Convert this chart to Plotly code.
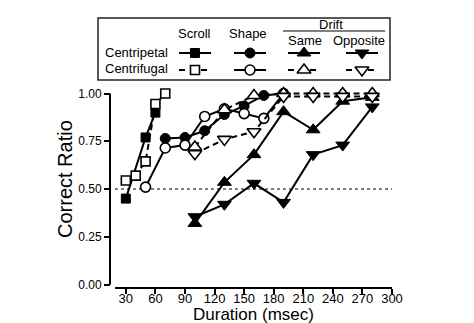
import plotly.graph_objects as go

W, H = 474, 323

# ---------------- data ----------------
x_ticks = [30, 60, 90, 120, 150, 180, 210, 240, 270, 300]
y_ticks = [0.0, 0.25, 0.5, 0.75, 1.0]
y_tick_labels = ["0.00", "0.25", "0.50", "0.75", "1.00"]

scroll_cp_x = [30, 50, 60]
scroll_cp_y = [0.45, 0.77, 0.90]
scroll_cf_x = [30, 40, 50, 60, 70]
scroll_cf_y = [0.545, 0.57, 0.645, 0.945, 1.0]

shape_cp_x = [70, 90, 110, 130, 150, 170, 190]
shape_cp_y = [0.765, 0.77, 0.805, 0.89, 0.935, 0.99, 1.0]
shape_cf_x = [50, 70, 90, 110, 130, 150, 170, 190]
shape_cf_y = [0.51, 0.715, 0.73, 0.88, 0.92, 0.895, 0.87, 1.0]

drift_x = [100, 130, 160, 190, 220, 250, 280]
same_cp_y = [0.32, 0.535, 0.68, 0.905, 0.81, 0.96, 0.98]
opp_cp_y = [0.355, 0.42, 0.53, 0.43, 0.68, 0.73, 0.93]
same_cf_y = [0.72, 0.915, 0.99, 1.0, 1.0, 1.0, 1.0]
opp_cf_y = [0.685, 0.76, 0.80, 0.985, 0.985, 0.985, 0.985]

row_labels = ["Centripetal", "Centrifugal"]
col_labels = ["Scroll", "Shape", "Same", "Opposite"]
group_label = "Drift"

FONT = "Liberation Sans, Arial, sans-serif"
DASH = "6px,4px"

fig = go.Figure()


def add_series(x, y, symbol, filled, dashed, size):
    fig.add_trace(go.Scatter(
        x=x, y=y, mode="lines+markers", cliponaxis=False,
        line=dict(color="black", width=2, dash=DASH if dashed else "solid"),
        marker=dict(symbol=symbol, size=size,
                    color="black" if filled else "white",
                    line=dict(color="black", width=1 if filled else 1.6)),
        xaxis="x", yaxis="y", showlegend=False, hoverinfo="skip"))


# filled (centripetal) first
add_series(scroll_cp_x, scroll_cp_y, "square", True, False, 9)
add_series(shape_cp_x, shape_cp_y, "circle", True, False, 10)
add_series(drift_x, same_cp_y, "triangle-up", True, False, 12)
add_series(drift_x, opp_cp_y, "triangle-down", True, False, 12)
# open (centrifugal) on top
add_series(scroll_cf_x, scroll_cf_y, "square", False, True, 9)
add_series(shape_cf_x, shape_cf_y, "circle", False, False, 10)
add_series(drift_x, same_cf_y, "triangle-up", False, True, 12)
add_series(drift_x, opp_cf_y, "triangle-down", False, True, 12)

# ---------------- legend (pixel-coord overlay axes) ----------------
leg_cols = [195, 250, 304, 362]
leg_rows = [53, 70]
leg_symbols = ["square", "circle", "triangle-up", "triangle-down"]
leg_sizes = [9, 10, 12, 12]
leg_dashed_row2 = [True, False, True, True]
half = 16
for ci, cx in enumerate(leg_cols):
    for ri, ry in enumerate(leg_rows):
        filled = ri == 0
        dashed = (ri == 1) and leg_dashed_row2[ci]
        fig.add_trace(go.Scatter(
            x=[cx - half, cx, cx + half], y=[ry, ry, ry],
            mode="lines", line=dict(color="black", width=2,
                                    dash="6px,5px" if dashed else "solid"),
            xaxis="x2", yaxis="y2", showlegend=False, hoverinfo="skip"))
        fig.add_trace(go.Scatter(
            x=[cx], y=[ry], mode="markers", cliponaxis=False,
            marker=dict(symbol=leg_symbols[ci], size=leg_sizes[ci],
                        color="black" if filled else "white",
                        line=dict(color="black", width=1 if filled else 1.6)),
            xaxis="x2", yaxis="y2", showlegend=False, hoverinfo="skip"))

annotations = []
for lbl, ry in zip(row_labels, [52, 68]):
    annotations.append(dict(x=103, y=ry, xref="x2", yref="y2", text=lbl,
                            showarrow=False, xanchor="left", yanchor="middle",
                            font=dict(family=FONT, size=13, color="black")))
for lbl, cx, cy in zip(col_labels, [194, 248, 305, 359], [33, 33, 40, 40]):
    annotations.append(dict(x=cx, y=cy, xref="x2", yref="y2", text=lbl,
                            showarrow=False, xanchor="center", yanchor="middle",
                            font=dict(family=FONT, size=13, color="black")))
annotations.append(dict(x=331, y=24, xref="x2", yref="y2", text=group_label,
                        showarrow=False, xanchor="center", yanchor="middle",
                        font=dict(family=FONT, size=13, color="black")))
annotations.append(dict(x=65, y=179, xref="x2", yref="y2", text="Correct Ratio",
                        showarrow=False, textangle=-90, xanchor="center", yanchor="middle",
                        font=dict(family=FONT, size=20, color="black")))
annotations.append(dict(x=253, y=314, xref="x2", yref="y2", text="Duration (msec)",
                        showarrow=False, xanchor="center", yanchor="middle",
                        font=dict(family=FONT, size=17, color="black")))

shapes = [
    # legend frame
    dict(type="rect", xref="x2", yref="y2", x0=98, x1=390, y0=18, y1=80,
         line=dict(color="#222", width=1.5), layer="above"),
    # Drift underline
    dict(type="line", xref="x2", yref="y2", x0=283, x1=385, y0=31, y1=31,
         line=dict(color="black", width=1.2)),
    # y axis line
    dict(type="line", xref="paper", yref="y", x0=110 / W, x1=110 / W, y0=0, y1=1,
         line=dict(color="black", width=2)),
    # chance line
    dict(type="line", xref="x", yref="y", x0=19, x1=300, y0=0.5, y1=0.5,
         line=dict(color="black", width=1, dash="dot"), layer="below"),
]

fig.update_layout(
    width=W, height=H, margin=dict(l=0, r=0, t=0, b=0),
    paper_bgcolor="white", plot_bgcolor="rgba(0,0,0,0)",
    font=dict(family=FONT, color="black"),
    showlegend=False,
    xaxis=dict(domain=[115 / W, 392 / W], range=[19, 300], anchor="y",
               tickvals=x_ticks, ticks="outside", ticklen=5, tickwidth=1.5,
               tickcolor="black", showline=True, linewidth=2, linecolor="black",
               showgrid=False, zeroline=False, automargin=False,
               ticklabelstandoff=-7,
               tickfont=dict(family=FONT, size=13, color="black")),
    yaxis=dict(domain=[(H - 287) / H, (H - 88) / H], range=[-0.013, 1.029],
               anchor="free", position=110 / W,
               tickvals=y_ticks, ticktext=y_tick_labels, ticks="outside",
               ticklen=6, tickwidth=1.5, tickcolor="black", showline=False,
               showgrid=False, zeroline=False, automargin=False,
               tickfont=dict(family=FONT, size=12, color="black")),
    xaxis2=dict(domain=[0, 1], range=[0, W], anchor="y2", visible=False),
    yaxis2=dict(domain=[0, 1], range=[H, 0], anchor="x2", visible=False),
    annotations=annotations,
    shapes=shapes,
)

fig.write_html("out.html")
